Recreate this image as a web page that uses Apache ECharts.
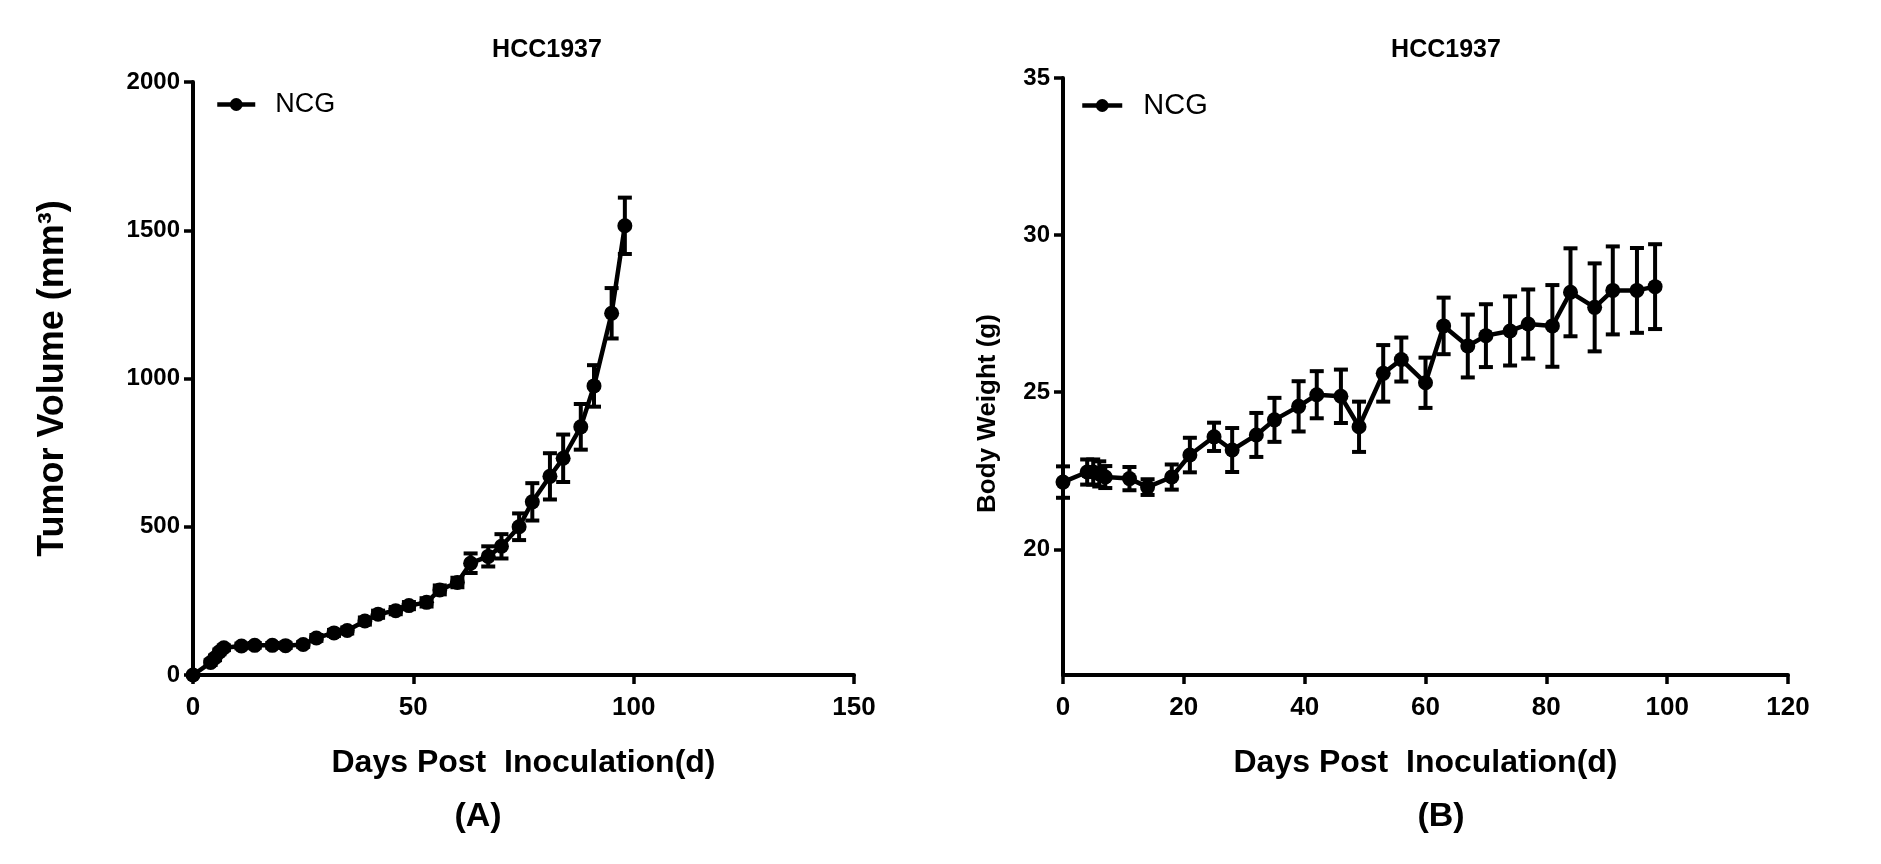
<!DOCTYPE html>
<html>
<head>
<meta charset="utf-8">
<script src="https://cdn.jsdelivr.net/npm/echarts@6/dist/echarts.min.js"></script>
<style>
  html, body { margin: 0; padding: 0; background: #fff; }
  #chart { width: 1881px; height: 864px; }
</style>
</head>
<body>
<div id="chart"></div>
<script>
// ---- data ----
const days = [0, 4, 5, 6, 7, 11, 14, 18, 21, 25, 28, 32, 35, 39, 42, 46, 49, 53, 56, 60, 63, 67, 70, 74, 77, 81, 84, 88, 91, 95, 98];
const tumorMean = [0, 42, 58, 78, 92, 98, 100, 100, 99, 103, 125, 142, 150, 182, 205, 217, 234, 245, 287, 312, 377, 400, 434, 500, 584, 670, 731, 837, 975, 1220, 1515];
const tumorErr = [0, 8, 8, 8, 8, 8, 8, 8, 8, 8, 10, 10, 10, 12, 12, 12, 12, 14, 15, 16, 33, 34, 41, 45, 63, 78, 80, 77, 70, 85, 95];
const weightMean = [22.14, 22.46, 22.46, 22.4, 22.3, 22.25, 21.98, 22.3, 23.0, 23.58, 23.16, 23.64, 24.12, 24.55, 24.92, 24.87, 23.9, 25.6, 26.04, 25.3, 27.11, 26.47, 26.8, 26.95, 27.17, 27.11, 28.18, 27.7, 28.24, 28.24, 28.36];
const weightErr = [0.5, 0.4, 0.4, 0.4, 0.35, 0.37, 0.25, 0.4, 0.55, 0.45, 0.7, 0.7, 0.7, 0.8, 0.75, 0.85, 0.8, 0.9, 0.7, 0.8, 0.9, 1.0, 1.0, 1.1, 1.1, 1.3, 1.4, 1.4, 1.4, 1.35, 1.35];
const seriesName = 'NCG';
const titleText = 'HCC1937';
const xNameText = 'Days Post  Inoculation(d)';
const yNameA = 'Tumor Volume (mm\u00B3)';
const yNameB = 'Body Weight (g)';
const panelA = '(A)';
const panelB = '(B)';
const yTicksB = [20, 25, 30, 35];

// ---- helpers ----
const boldFont = "'Liberation Sans', Arial, sans-serif";
const narrowFont = "'Liberation Sans Narrow', 'Arial Narrow', 'Liberation Sans', Arial, sans-serif";

function errData(mean, err) {
  return days.map((d, i) => [d, mean[i] - err[i], mean[i] + err[i]]);
}
function lineData(mean) {
  return days.map((d, i) => [d, mean[i]]);
}
function errRender(params, api) {
  const x = api.value(0);
  const lo = api.coord([x, api.value(1)]);
  const hi = api.coord([x, api.value(2)]);
  const hw = 7;
  const st = { stroke: '#000', lineWidth: 4 };
  return {
    type: 'group',
    children: [
      { type: 'line', shape: { x1: hi[0], y1: hi[1], x2: lo[0], y2: lo[1] }, style: st },
      { type: 'line', shape: { x1: hi[0] - hw, y1: hi[1], x2: hi[0] + hw, y2: hi[1] }, style: st },
      { type: 'line', shape: { x1: lo[0] - hw, y1: lo[1], x2: lo[0] + hw, y2: lo[1] }, style: st }
    ]
  };
}
const plain = v => String(v);

const axisLine = { show: true, lineStyle: { color: '#000', width: 4 } };
const axisTick = { show: true, inside: false, length: 9, lineStyle: { color: '#000', width: 3.5 } };

const chart = echarts.init(document.getElementById('chart'), null, { renderer: 'canvas' });

const legendCommon = {
  data: [seriesName], top: 86, itemWidth: 38, itemHeight: 16,
  lineStyle: { color: '#000', width: 4.5 },
  itemStyle: { color: '#000' }
};

const option = {
  backgroundColor: '#fff',
  animation: false,
  title: [
    { text: titleText, left: 542, top: 33, textAlign: 'center',
      textStyle: { fontFamily: boldFont, fontWeight: 'bold', fontSize: 25, color: '#000' } },
    { text: titleText, left: 1441, top: 33, textAlign: 'center',
      textStyle: { fontFamily: boldFont, fontWeight: 'bold', fontSize: 25, color: '#000' } },
    { text: panelA, left: 473, top: 795, textAlign: 'center',
      textStyle: { fontFamily: narrowFont, fontWeight: 'bold', fontSize: 34, color: '#000' } },
    { text: panelB, left: 1436, top: 795, textAlign: 'center',
      textStyle: { fontFamily: narrowFont, fontWeight: 'bold', fontSize: 34, color: '#000' } }
  ],
  legend: [
    Object.assign({}, legendCommon, { left: 210,
      textStyle: { fontFamily: boldFont, fontSize: 27, color: '#000', padding: [0, 0, 0, 15] } }),
    Object.assign({}, legendCommon, { left: 1075, itemWidth: 40,
      textStyle: { fontFamily: boldFont, fontSize: 29, color: '#000', padding: [0, 0, 0, 16] } })
  ],
  grid: [
    { left: 193, top: 82, width: 661, height: 593 },
    { left: 1063, top: 78, width: 725, height: 597 }
  ],
  xAxis: [
    { type: 'value', gridIndex: 0, min: 0, max: 150, interval: 50,
      name: xNameText, nameLocation: 'middle', nameGap: 72,
      nameTextStyle: { fontFamily: narrowFont, fontWeight: 'bold', fontSize: 32, color: '#000' },
      axisLine: axisLine, axisTick: axisTick, splitLine: { show: false },
      axisLabel: { margin: 20, formatter: plain, fontFamily: narrowFont, fontWeight: 'bold', fontSize: 26, color: '#000' } },
    { type: 'value', gridIndex: 1, min: 0, max: 120, interval: 20,
      name: xNameText, nameLocation: 'middle', nameGap: 72,
      nameTextStyle: { fontFamily: narrowFont, fontWeight: 'bold', fontSize: 32, color: '#000' },
      axisLine: axisLine, axisTick: axisTick, splitLine: { show: false },
      axisLabel: { margin: 20, formatter: plain, fontFamily: narrowFont, fontWeight: 'bold', fontSize: 26, color: '#000' } }
  ],
  yAxis: [
    { type: 'value', gridIndex: 0, min: 0, max: 2000, interval: 500,
      name: yNameA, nameLocation: 'middle', nameGap: 122, nameRotate: 90,
      nameTextStyle: { fontFamily: boldFont, fontWeight: 'bold', fontSize: 36, color: '#000' },
      axisLine: axisLine, axisTick: axisTick, splitLine: { show: false },
      axisLabel: { margin: 13, formatter: plain, fontFamily: boldFont, fontWeight: 'bold', fontSize: 24, color: '#000' } },
    { type: 'value', gridIndex: 1, min: 16, max: 35,
      name: yNameB, nameLocation: 'middle', nameGap: 62, nameRotate: 90,
      nameTextStyle: { fontFamily: boldFont, fontWeight: 'bold', fontSize: 26, color: '#000', padding: [0, 74, 0, 0] },
      axisLine: axisLine,
      axisTick: Object.assign({}, axisTick, { customValues: yTicksB }),
      splitLine: { show: false },
      axisLabel: { customValues: yTicksB, margin: 13, formatter: plain, fontFamily: boldFont, fontWeight: 'bold', fontSize: 24, color: '#000' } }
  ],
  series: [
    { name: seriesName, type: 'line', xAxisIndex: 0, yAxisIndex: 0, data: lineData(tumorMean),
      symbol: 'circle', symbolSize: 15, itemStyle: { color: '#000' },
      lineStyle: { color: '#000', width: 4.5 }, z: 3 },
    { name: 'errA', type: 'custom', xAxisIndex: 0, yAxisIndex: 0, data: errData(tumorMean, tumorErr),
      renderItem: errRender, z: 4 },
    { name: seriesName, type: 'line', xAxisIndex: 1, yAxisIndex: 1, data: lineData(weightMean),
      symbol: 'circle', symbolSize: 15, itemStyle: { color: '#000' },
      lineStyle: { color: '#000', width: 4.5 }, z: 3 },
    { name: 'errB', type: 'custom', xAxisIndex: 1, yAxisIndex: 1, data: errData(weightMean, weightErr),
      renderItem: errRender, z: 4 }
  ]
};
chart.setOption(option);
</script>
</body>
</html>
